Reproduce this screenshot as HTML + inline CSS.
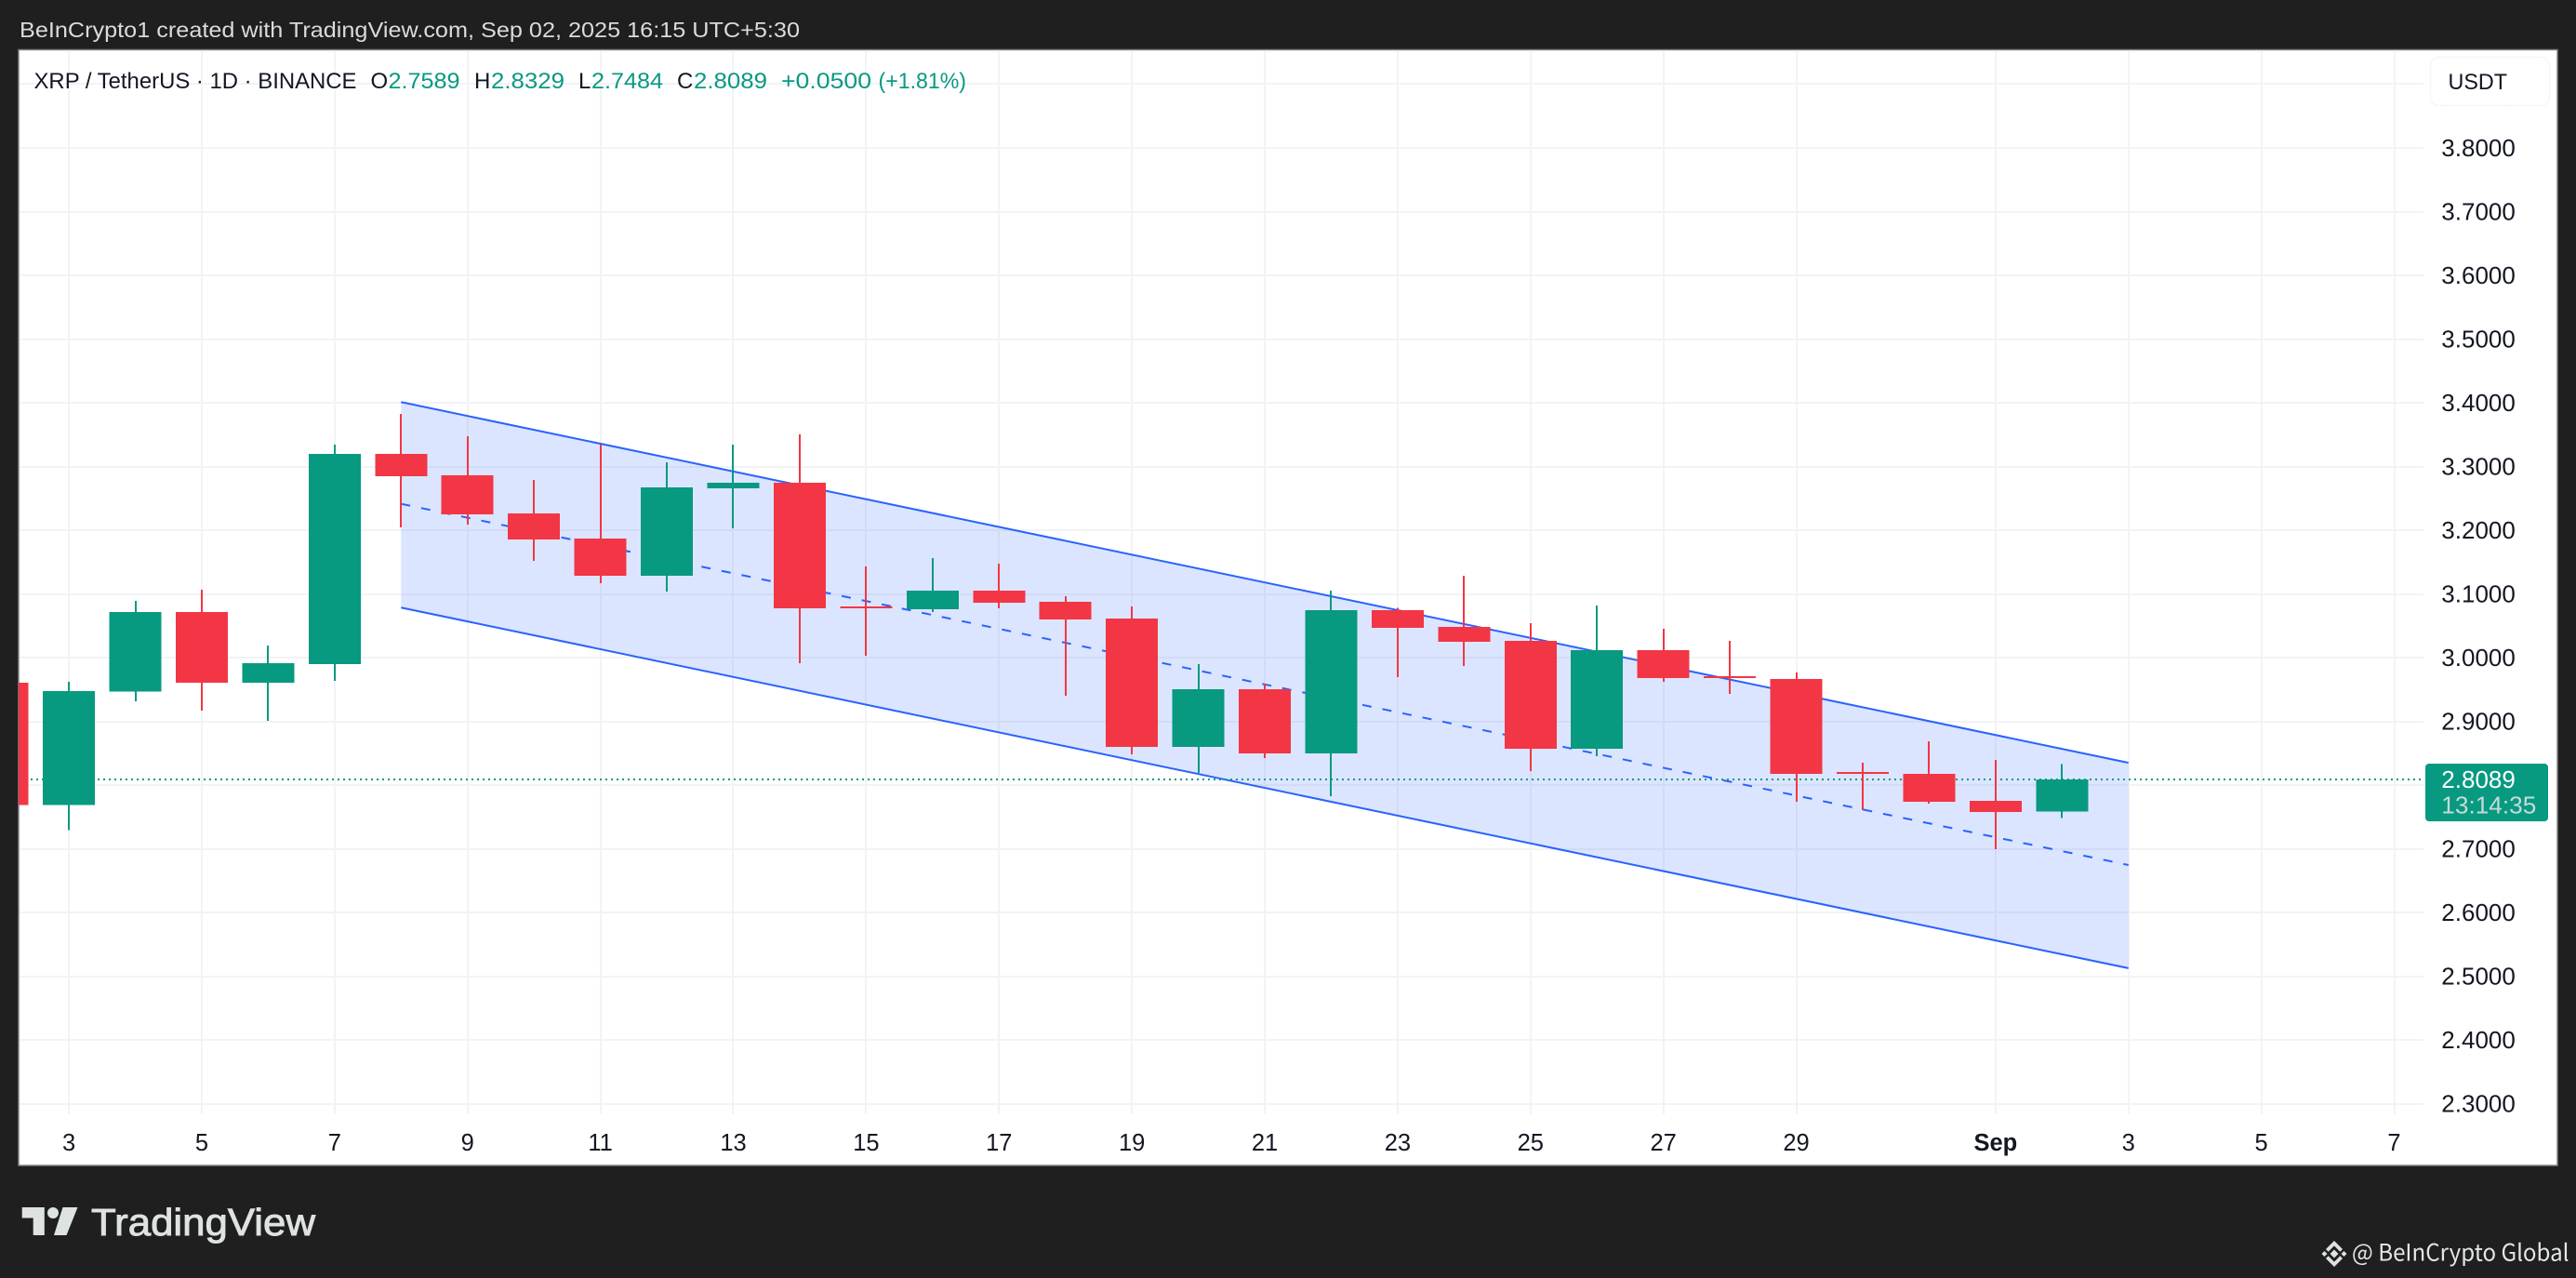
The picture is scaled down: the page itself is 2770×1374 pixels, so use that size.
<!DOCTYPE html>
<html lang="en">
<head>
<meta charset="utf-8">
<title>XRP / TetherUS 1D chart</title>
<style>
  html, body { margin: 0; padding: 0; background: #1f1f1f; width: 2770px; height: 1374px; overflow: hidden; }
  svg { display: block; font-family: "Liberation Sans", sans-serif; }
</style>
</head>
<body>
<svg id="chart" xmlns="http://www.w3.org/2000/svg" width="2770" height="1374" viewBox="0 0 2770 1374">
  <defs>
    <clipPath id="plot-clip"><rect x="20" y="54" width="2586" height="1144"/></clipPath>
  </defs>
  <rect x="0" y="0" width="2770" height="1374" fill="#1f1f1f"/>
  <text x="21" y="40" font-size="23" fill="#d9dcdc" textLength="839" lengthAdjust="spacingAndGlyphs">BeInCrypto1 created with TradingView.com, Sep 02, 2025 16:15 UTC+5:30</text>
  <rect x="20" y="53.5" width="2730" height="1199.5" fill="#ffffff" stroke="#808080" stroke-width="1.5"/>
  <g id="grid-layer"></g>
  <g id="channel-layer" clip-path="url(#plot-clip)"></g>
  <g id="last-price-layer"></g>
  <g id="candle-layer" clip-path="url(#plot-clip)"></g>
  <g id="y-axis-layer"></g>
  <g id="x-axis-layer"></g>

  <g font-size="24" fill="#131722">
    <text x="36.5" y="95" textLength="347" lengthAdjust="spacingAndGlyphs">XRP / TetherUS · 1D · BINANCE</text>
    <text x="398.5" y="95">O</text>
    <text x="417.5" y="95" fill="#089981" textLength="77" lengthAdjust="spacingAndGlyphs">2.7589</text>
    <text x="510" y="95">H</text>
    <text x="528" y="95" fill="#089981" textLength="79" lengthAdjust="spacingAndGlyphs">2.8329</text>
    <text x="622" y="95">L</text>
    <text x="636" y="95" fill="#089981" textLength="77" lengthAdjust="spacingAndGlyphs">2.7484</text>
    <text x="728" y="95">C</text>
    <text x="746" y="95" fill="#089981" textLength="79" lengthAdjust="spacingAndGlyphs">2.8089</text>
    <text x="840" y="95" fill="#089981" textLength="97" lengthAdjust="spacingAndGlyphs">+0.0500</text>
    <text x="944.5" y="95" fill="#089981" textLength="94.5" lengthAdjust="spacingAndGlyphs">(+1.81%)</text>
  </g>

  <g>
    <rect x="2613.5" y="61.5" width="128" height="52" rx="9" fill="#ffffff" stroke="#f0f2f5" stroke-width="1.5" stroke-dasharray="2 1"/>
    <text x="2632.5" y="96" font-size="24" fill="#131722" textLength="63.5" lengthAdjust="spacingAndGlyphs">USDT</text>
  </g>

  <g>
    <rect x="2608" y="821" width="132" height="62" rx="4" fill="#089981"/>
    <text x="2625.3" y="847" font-size="26" fill="#ffffff">2.8089</text>
    <text x="2625.3" y="874.5" font-size="26" fill="#c4dcd6" textLength="102" lengthAdjust="spacingAndGlyphs">13:14:35</text>
  </g>

  <g fill="#dfe2e2">
    <polygon points="23.7,1298 47.8,1298 47.8,1328 35.7,1328 35.7,1309.5 23.7,1309.5"/>
    <circle cx="57" cy="1304" r="6"/>
    <polygon points="67.5,1298 83.5,1298 71.5,1328 58,1328"/>
    <text x="98" y="1328" font-size="41" stroke="#dfe2e2" stroke-width="0.9" textLength="241" lengthAdjust="spacingAndGlyphs">TradingView</text>
  </g>

  <g fill="#e4e7e7">
    <g fill="#dde1e1">
      <polygon points="2510,1343.5 2514.5,1348 2510,1352.5 2505.5,1348"/>
      <polygon points="2510,1334 2519,1343 2516.3,1345.7 2510,1339.4 2503.7,1345.7 2501,1343"/>
      <polygon points="2510,1362 2519,1353 2516.3,1350.3 2510,1356.6 2503.7,1350.3 2501,1353"/>
      <polygon points="2499.5,1345 2502.5,1348 2499.5,1351 2496.5,1348"/>
      <polygon points="2520.5,1345 2523.5,1348 2520.5,1351 2517.5,1348"/>
    </g>
    <text x="2529" y="1355.7" font-size="25" font-family="'Noto Sans CJK JP', 'Liberation Sans', sans-serif" textLength="233.5" lengthAdjust="spacingAndGlyphs">@ BeInCrypto Global</text>
  </g>
</svg>

<script>
// ---- chart data ----
var dates = ['Aug 2','Aug 3','Aug 4','Aug 5','Aug 6','Aug 7','Aug 8','Aug 9','Aug 10','Aug 11','Aug 12','Aug 13','Aug 14','Aug 15','Aug 16','Aug 17','Aug 18','Aug 19','Aug 20','Aug 21','Aug 22','Aug 23','Aug 24','Aug 25','Aug 26','Aug 27','Aug 28','Aug 29','Aug 30','Aug 31','Sep 1','Sep 2'];
var opens  = [2.9607,2.7685,2.9466,3.0716,2.9607,2.9899,3.3198,3.2862,3.2264,3.1869,3.1286,3.2658,3.2745,3.0804,3.0760,3.1052,3.0877,3.0614,2.8600,2.9505,2.8498,3.0746,3.0483,3.0264,2.8571,3.0118,2.9709,2.9665,2.8206,2.8177,2.7753,2.7589];
var highs  = [3.0000,2.9622,3.0891,3.1067,3.0191,3.3344,3.3825,3.3475,3.2789,3.3344,3.3066,3.3344,3.3504,3.1432,3.1563,3.1475,3.0965,3.0804,2.9899,2.9592,3.1052,3.0780,3.1286,3.0541,3.0819,3.0454,3.0264,2.9768,2.8352,2.8687,2.8396,2.8329];
var lows   = [2.7300,2.7291,2.9315,2.9169,2.9009,2.9636,3.2045,3.2088,3.1519,3.1169,3.1038,3.2030,2.9914,3.0030,3.0716,3.0775,2.9403,2.8483,2.8191,2.8425,2.7826,2.9695,2.9870,2.8220,2.8454,2.9622,2.9432,2.7739,2.7607,2.7710,2.6994,2.7484];
var closes = [2.7685,2.9476,3.0716,2.9607,2.9914,3.3198,3.2847,3.2249,3.1855,3.1286,3.2672,3.2745,3.0775,3.0775,3.1052,3.0862,3.0600,2.8600,2.9505,2.8498,3.0746,3.0468,3.0249,2.8571,3.0118,2.9680,2.9680,2.8177,2.8177,2.7739,2.7578,2.8089];

var gridPrices = [2.3,2.4,2.5,2.6,2.7,2.8,2.9,3.0,3.1,3.2,3.3,3.4,3.5,3.6,3.7,3.8,3.9];
var priceLabels = ['2.3000','2.4000','2.5000','2.6000','2.7000','2.9000','3.0000','3.1000','3.2000','3.3000','3.4000','3.5000','3.6000','3.7000','3.8000'];

var timeTickSlots = [1,3,5,7,9,11,13,15,17,19,21,23,25,27,30,32,34,36];
var timeTickLabels = ['3','5','7','9','11','13','15','17','19','21','23','25','27','29','Sep','3','5','7'];

var channelSlots = [6,32];
var channelUpper = [3.4011,2.8351];
var channelMiddle = [3.2414,2.6746];
var channelLower = [3.0786,2.5127];
var lastPrice = 2.8089;

// ---- axis functions ----
function xScale(slot) { return 2.66 + 71.44 * slot; }
function yScale(price) { return 159 + (3.8 - price) * 685.1; }

var NS = 'http://www.w3.org/2000/svg';
function make(tag, attrs, parent) {
  var el = document.createElementNS(NS, tag);
  for (var k in attrs) el.setAttribute(k, attrs[k]);
  parent.appendChild(el);
  return el;
}

var gridLayer = document.getElementById('grid-layer');
var channelLayer = document.getElementById('channel-layer');
var lastLayer = document.getElementById('last-price-layer');
var candleLayer = document.getElementById('candle-layer');
var yAxisLayer = document.getElementById('y-axis-layer');
var xAxisLayer = document.getElementById('x-axis-layer');

// grid
gridPrices.forEach(function (p) {
  var y = Math.round(yScale(p));
  var line = make('rect', { x: 21, y: y - 1, width: 2585, height: 2, fill: '#f2f3f5' }, gridLayer);
  
  
});
timeTickSlots.forEach(function (s) {
  var x = Math.round(xScale(s));
  var line = make('rect', { x: x - 1, y: 55, width: 2, height: 1143, fill: '#f2f3f5' }, gridLayer);
  
  
});

// channel
var cx0 = xScale(channelSlots[0]);
var cx1 = xScale(channelSlots[1]);
var fill = make('polygon', {
  points: cx0 + ',' + yScale(channelUpper[0]) + ' ' + cx1 + ',' + yScale(channelUpper[1]) + ' ' + cx1 + ',' + yScale(channelLower[1]) + ' ' + cx0 + ',' + yScale(channelLower[0]),
  fill: '#2962ff', 'fill-opacity': 0.165
}, channelLayer);



var upperLine = make('line', { x1: cx0, y1: yScale(channelUpper[0]), x2: cx1, y2: yScale(channelUpper[1]), stroke: '#2962ff', 'stroke-width': 2 }, channelLayer);



var lowerLine = make('line', { x1: cx0, y1: yScale(channelLower[0]), x2: cx1, y2: yScale(channelLower[1]), stroke: '#2962ff', 'stroke-width': 2 }, channelLayer);



var middleLine = make('line', { x1: cx0, y1: yScale(channelMiddle[0]), x2: cx1, y2: yScale(channelMiddle[1]), stroke: '#2962ff', 'stroke-width': 2, 'stroke-dasharray': '10 12' }, channelLayer);



// last price line
var priceLine = make('line', { x1: 21, y1: Math.round(yScale(lastPrice)), x2: 2606, y2: Math.round(yScale(lastPrice)), stroke: '#089981', 'stroke-width': 2, 'stroke-dasharray': '2 4' }, lastLayer);



// candles
var bodyWidth = 56;
dates.forEach(function (d, i) {
  var up = closes[i] >= opens[i];
  var color = up ? '#089981' : '#f23645';
  var x = xScale(i);
  var g = make('g', { 'shape-rendering': 'crispEdges' }, candleLayer);
  
  
  var yHigh = yScale(highs[i]);
  var yLow = yScale(lows[i]);
  var wick = make('rect', { x: Math.round(x) - 1, y: yHigh, width: 2, height: yLow - yHigh, fill: color }, g);
  
  
  var yTop = yScale(Math.max(opens[i], closes[i]));
  var yBot = yScale(Math.min(opens[i], closes[i]));
  var body = make('rect', { x: x - bodyWidth / 2, y: yTop, width: bodyWidth, height: Math.max(yBot - yTop, 2), fill: color }, g);
  
  
});

// price axis labels
priceLabels.forEach(function (label) {
  var t = make('text', { x: 2625.3, y: yScale(parseFloat(label)) + 9, 'font-size': 26, fill: '#131722' }, yAxisLayer);
  t.textContent = label;
  
  
});

// time axis labels
timeTickLabels.forEach(function (label, i) {
  var isMonth = label === 'Sep';
  var t = make('text', { x: xScale(timeTickSlots[i]), y: 1237, 'font-size': 25.5, fill: '#131722', 'text-anchor': 'middle', 'font-weight': isMonth ? 'bold' : 'normal' }, xAxisLayer);
  t.textContent = label;
  
  
});
</script>
</body>
</html>
